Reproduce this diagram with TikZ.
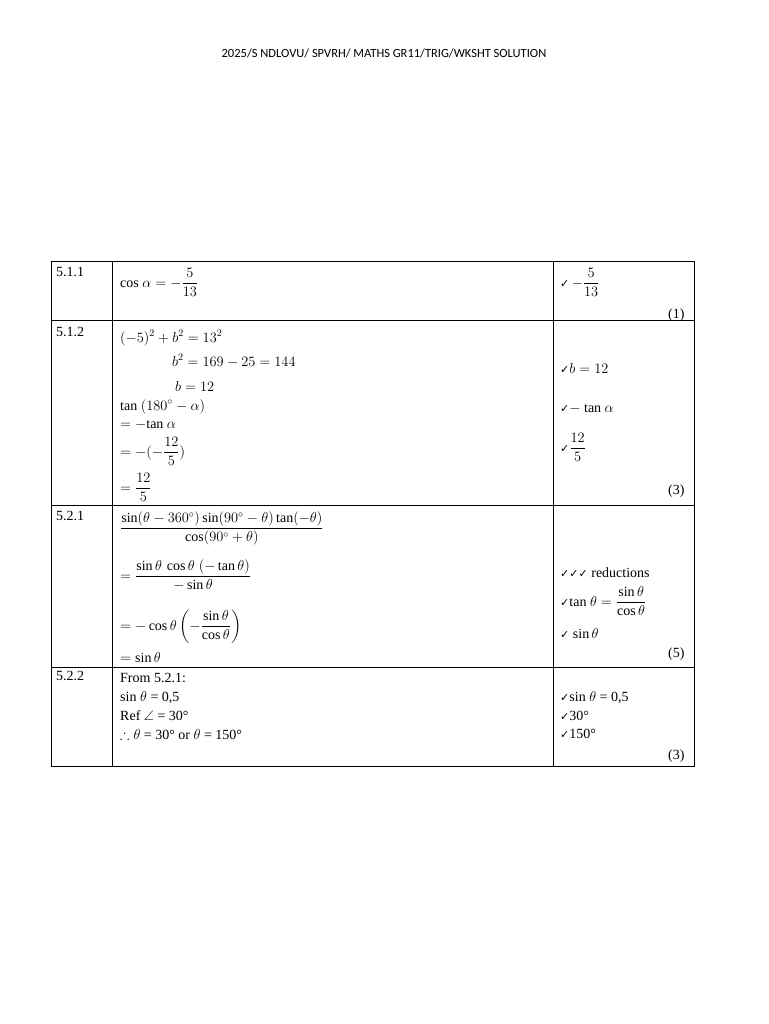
\documentclass[tikz,border=0pt]{standalone}
\usepackage{amsmath,amssymb}
\usepackage{fontspec}
\setmainfont{Liberation Serif}
\newfontfamily\hdr{Carlito}
\newfontfamily\sym{DejaVu Sans}
\newcommand{\ck}{{\sym\fontsize{11}{12}\selectfont ✓}}
\begin{document}
\begin{tikzpicture}[x=1pt,y=-1pt,
  t/.style={anchor=base west,inner sep=0pt,font=\fontsize{14}{16}\selectfont},
  grid/.style={line width=1pt}]
\useasboundingbox (0,0) rectangle (768,1024);
\node[anchor=base,inner sep=0pt,font=\hdr\fontsize{12.5}{14}\selectfont] (hd) at (384,58) {2025/S NDLOVU/ SPVRH/ MATHS GR11/TRIG/WKSHT SOLUTION};
% grid
\draw[grid] (51,261) rectangle (694,766);
\draw[grid] (112,261) -- (112,766) (553,261) -- (553,766);
\draw[grid] (51,320) -- (694,320) (51,505) -- (694,505) (51,667) -- (694,667);
% labels
\node[t] (l1) at (56,276) {5.1.1};
\node[t] (l2) at (56,336) {5.1.2};
\node[t] (l3) at (56,520) {5.2.1};
\node[t] (l4) at (56,680) {5.2.2};
% 5.1.1
\node[t] (a1) at (120,287) {cos $\alpha = -\dfrac{5}{13}$};
\node[t] (m1) at (560,287) {\ck\,$-\dfrac{5}{13}$};
\node[t] (p1) at (668,318) {(1)};
% 5.1.2
\node[t] (b1) at (120,342) {$(-5)^2+b^2=13^2$};
\node[t] (b2) at (172,366) {$b^2=169-25=144$};
\node[t] (b3) at (175,391) {$b=12$};
\node[t] (b4) at (120,410) {tan $(180^\circ-\alpha)$};
\node[t] (b5) at (120,428) {$=-$tan $\alpha$};
\node[t] (b6) at (120,456) {$=-(-\dfrac{12}{5})$};
\node[t] (b7) at (120,492) {$=\dfrac{12}{5}$};
\node[t] (m2) at (560,373) {\ck$b=12$};
\node[t] (m3) at (560,412) {\ck$-$ tan $\alpha$};
\node[t] (m4) at (560,452) {\ck$\dfrac{12}{5}$};
\node[t] (p2) at (668,494) {(3)};
% 5.2.1
\node[t] (c1) at (120,532) {$\dfrac{\sin(\theta-360^\circ)\sin(90^\circ-\theta)\tan(-\theta)}{\qquad\cos(90^\circ+\theta)\qquad}$};
\node[t] (c2) at (120,580) {$=\dfrac{\sin\theta\,\cos\theta\;(-\tan\theta)}{-\sin\theta}$};
\node[t] (c3) at (120,630) {$=-\cos\theta\left(-\dfrac{\sin\theta}{\cos\theta}\right)$};
\node[t] (c4) at (120,662) {$=\sin\theta$};
\node[t] (m5) at (560,577) {\ck\ck\ck\ reductions};
\node[t] (m6) at (560,606) {\ck tan $\theta=\dfrac{\sin\theta}{\cos\theta}$};
\node[t] (m7) at (560,638) {\ck\ $\sin\theta$};
\node[t] (p3) at (668,657) {(5)};
% 5.2.2
\node[t] (d1) at (120,682) {From 5.2.1:};
\node[t] (d2) at (120,701) {sin $\theta$ = 0,5};
\node[t] (d3) at (120,720) {Ref $\angle$ = 30°};
\node[t] (d4) at (120,739) {$\therefore\theta$ = 30° or $\theta$ = 150°};
\node[t] (m8) at (560,701) {\ck sin $\theta$ = 0,5};
\node[t] (m9) at (560,720) {\ck30°};
\node[t] (m10) at (560,738) {\ck150°};
\node[t] (p4) at (668,759) {(3)};
\end{tikzpicture}
\end{document}
